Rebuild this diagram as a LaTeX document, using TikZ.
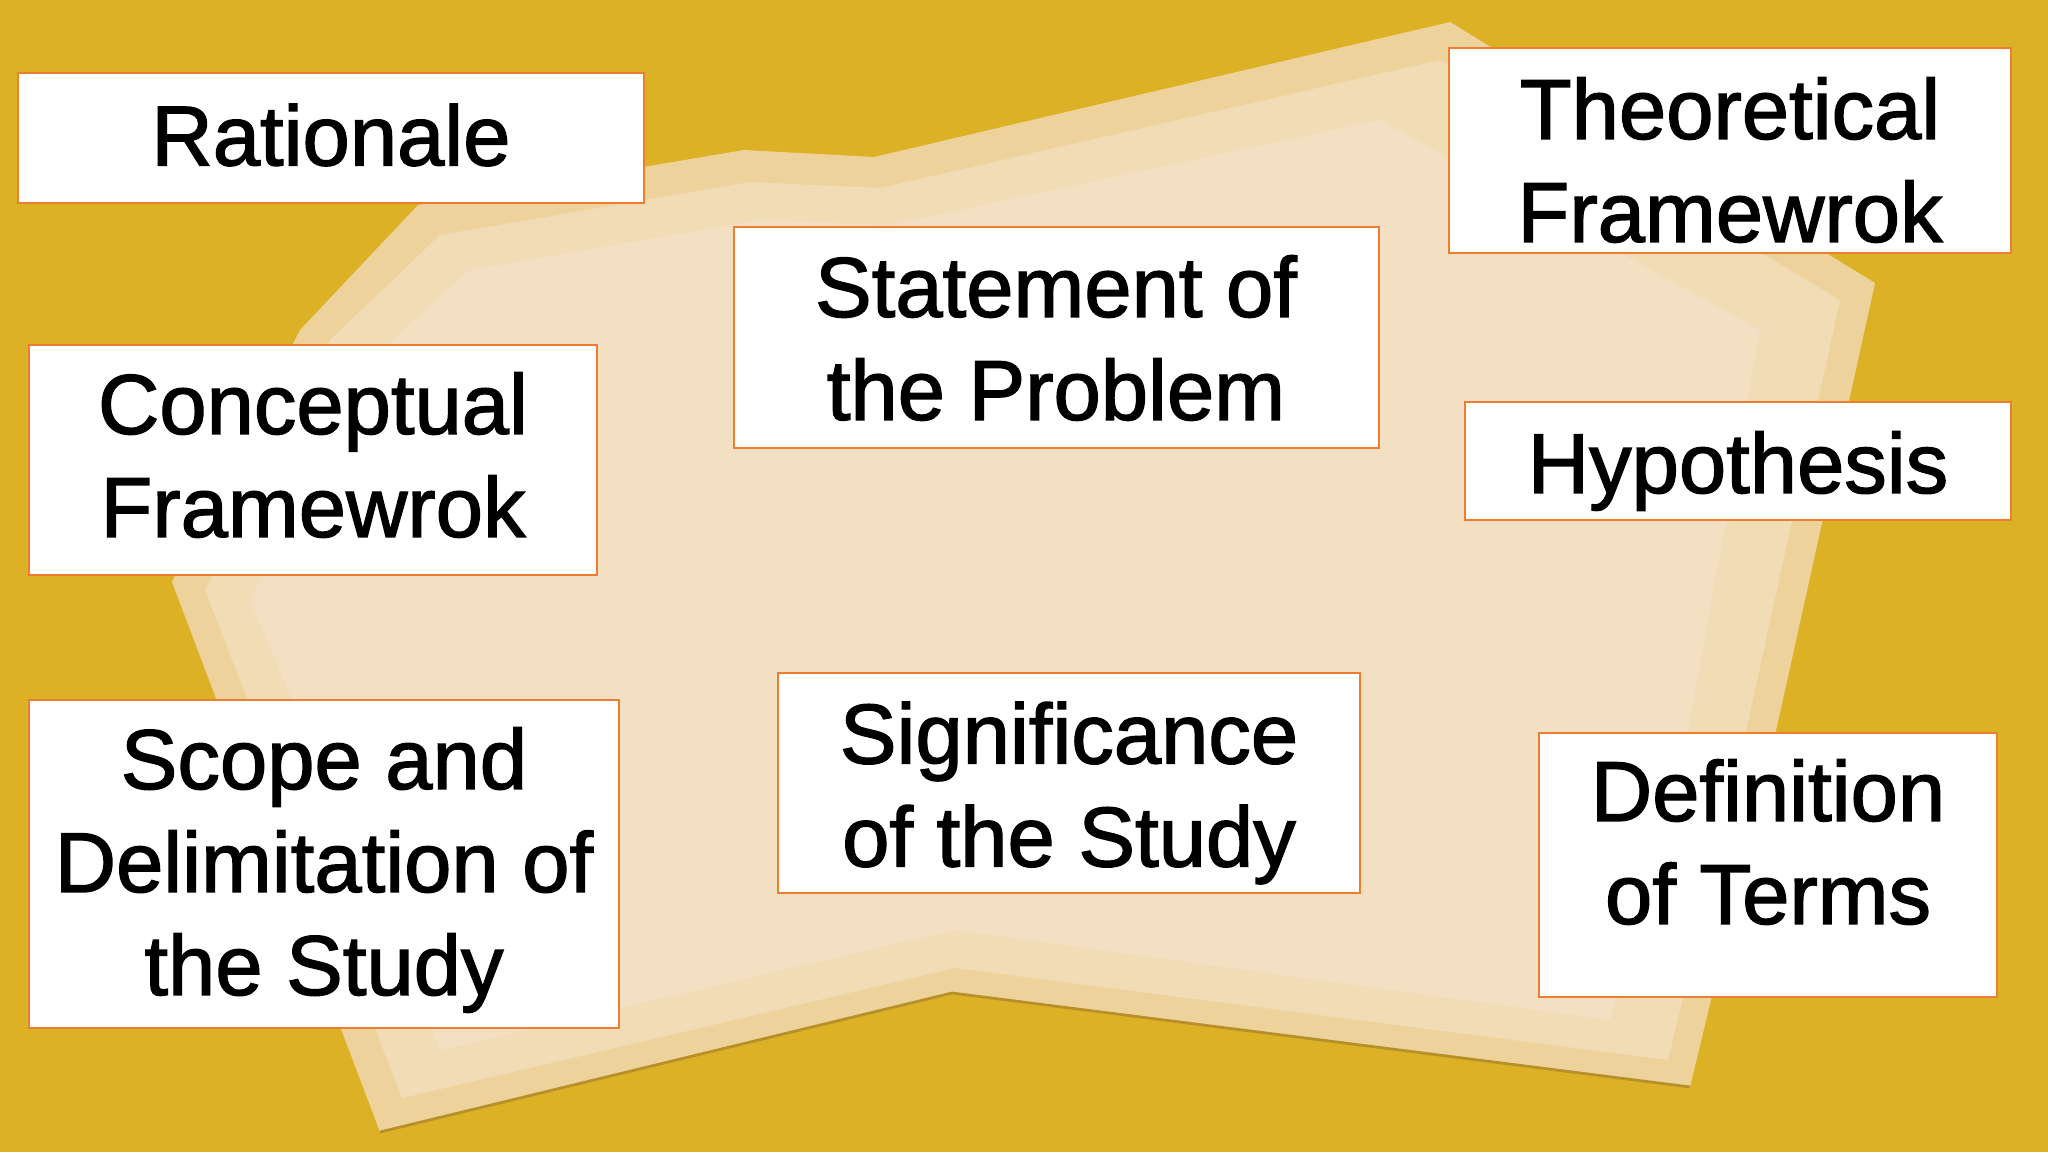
\documentclass[tikz,border=0pt]{standalone}
\usepackage{fontspec}
\setmainfont{Liberation Sans}
\newfontfamily\lblfont{Liberation Sans}[FakeBold=1.6]
\definecolor{bgyellow}{HTML}{DDB125}
\definecolor{paperedge}{HTML}{EDD39B}
\definecolor{paperlight}{HTML}{F3E0C3}
\definecolor{papermid}{HTML}{F1DCB6}
\definecolor{shadowc}{HTML}{B8902A}
\definecolor{boxorange}{HTML}{ED7D31}
\begin{document}
\begin{tikzpicture}[x=0.5pt,y=-0.5pt,
  box/.style={draw=boxorange, line width=1.1pt, fill=white, inner sep=0pt, rectangle},
  lbl/.style={font=\lblfont\fontsize{42.5pt}{51.5pt}\selectfont, align=center, inner sep=0pt, text=black}]
\useasboundingbox (0,0) rectangle (2048,1152);
% background
\fill[bgyellow] (0,0) rectangle (2048,1152);
% paper sheets
\fill[paperedge] (1450,22) -- (1875,283) -- (1778,722) -- (1690,1087) -- (952,993) -- (380,1132)
  -- (172,582) -- (300,330) -- (418,205) -- (744,150) -- (874,157) -- cycle;
\fill[papermid] (1440,60) -- (1840,300) -- (1748,722) -- (1668,1060) -- (955,968) -- (402,1098)
  -- (205,590) -- (330,340) -- (440,235) -- (750,182) -- (880,188) -- cycle;
\fill[paperlight] (1380,120) -- (1760,330) -- (1690,720) -- (1610,1020) -- (955,930) -- (440,1050)
  -- (250,600) -- (370,360) -- (470,270) -- (760,220) -- (890,225) -- cycle;
\draw[shadowc, line width=1.4pt, line join=round] (380,1132) -- (952,993) -- (1690,1087);
% boxes
\node[box, minimum width=313pt, minimum height=65pt] (rat) at (331,138) {};
\node[box, minimum width=281pt, minimum height=102.5pt] (theo) at (1730,150.5) {};
\node[box, minimum width=322.5pt, minimum height=110.5pt] (stmt) at (1056.5,337.5) {};
\node[box, minimum width=284pt, minimum height=115pt] (conc) at (313,460) {};
\node[box, minimum width=273pt, minimum height=59pt] (hyp) at (1738,461) {};
\node[box, minimum width=295pt, minimum height=164pt] (scope) at (324,864) {};
\node[box, minimum width=291pt, minimum height=110pt] (sig) at (1069,783) {};
\node[box, minimum width=229pt, minimum height=132pt] (defn) at (1768,865) {};
% labels
\node[lbl] (ratT) at (331,135) {Rationale};
\node[lbl] (theoT) at (1730,160) {Theoretical\\Framewrok};
\node[lbl] (stmtT) at (1056,338) {Statement of\\the Problem};
\node[lbl] (concT) at (313,455) {Conceptual\\Framewrok};
\node[lbl] (hypT) at (1738,471) {Hypothesis};
\node[lbl] (scopeT) at (324,870) {Scope and\\Delimitation of\\the Study};
\node[lbl] (sigT) at (1069,793) {Significance\\of the Study};
\node[lbl] (defnT) at (1768,842) {Definition\\of Terms};
\end{tikzpicture}
\end{document}
